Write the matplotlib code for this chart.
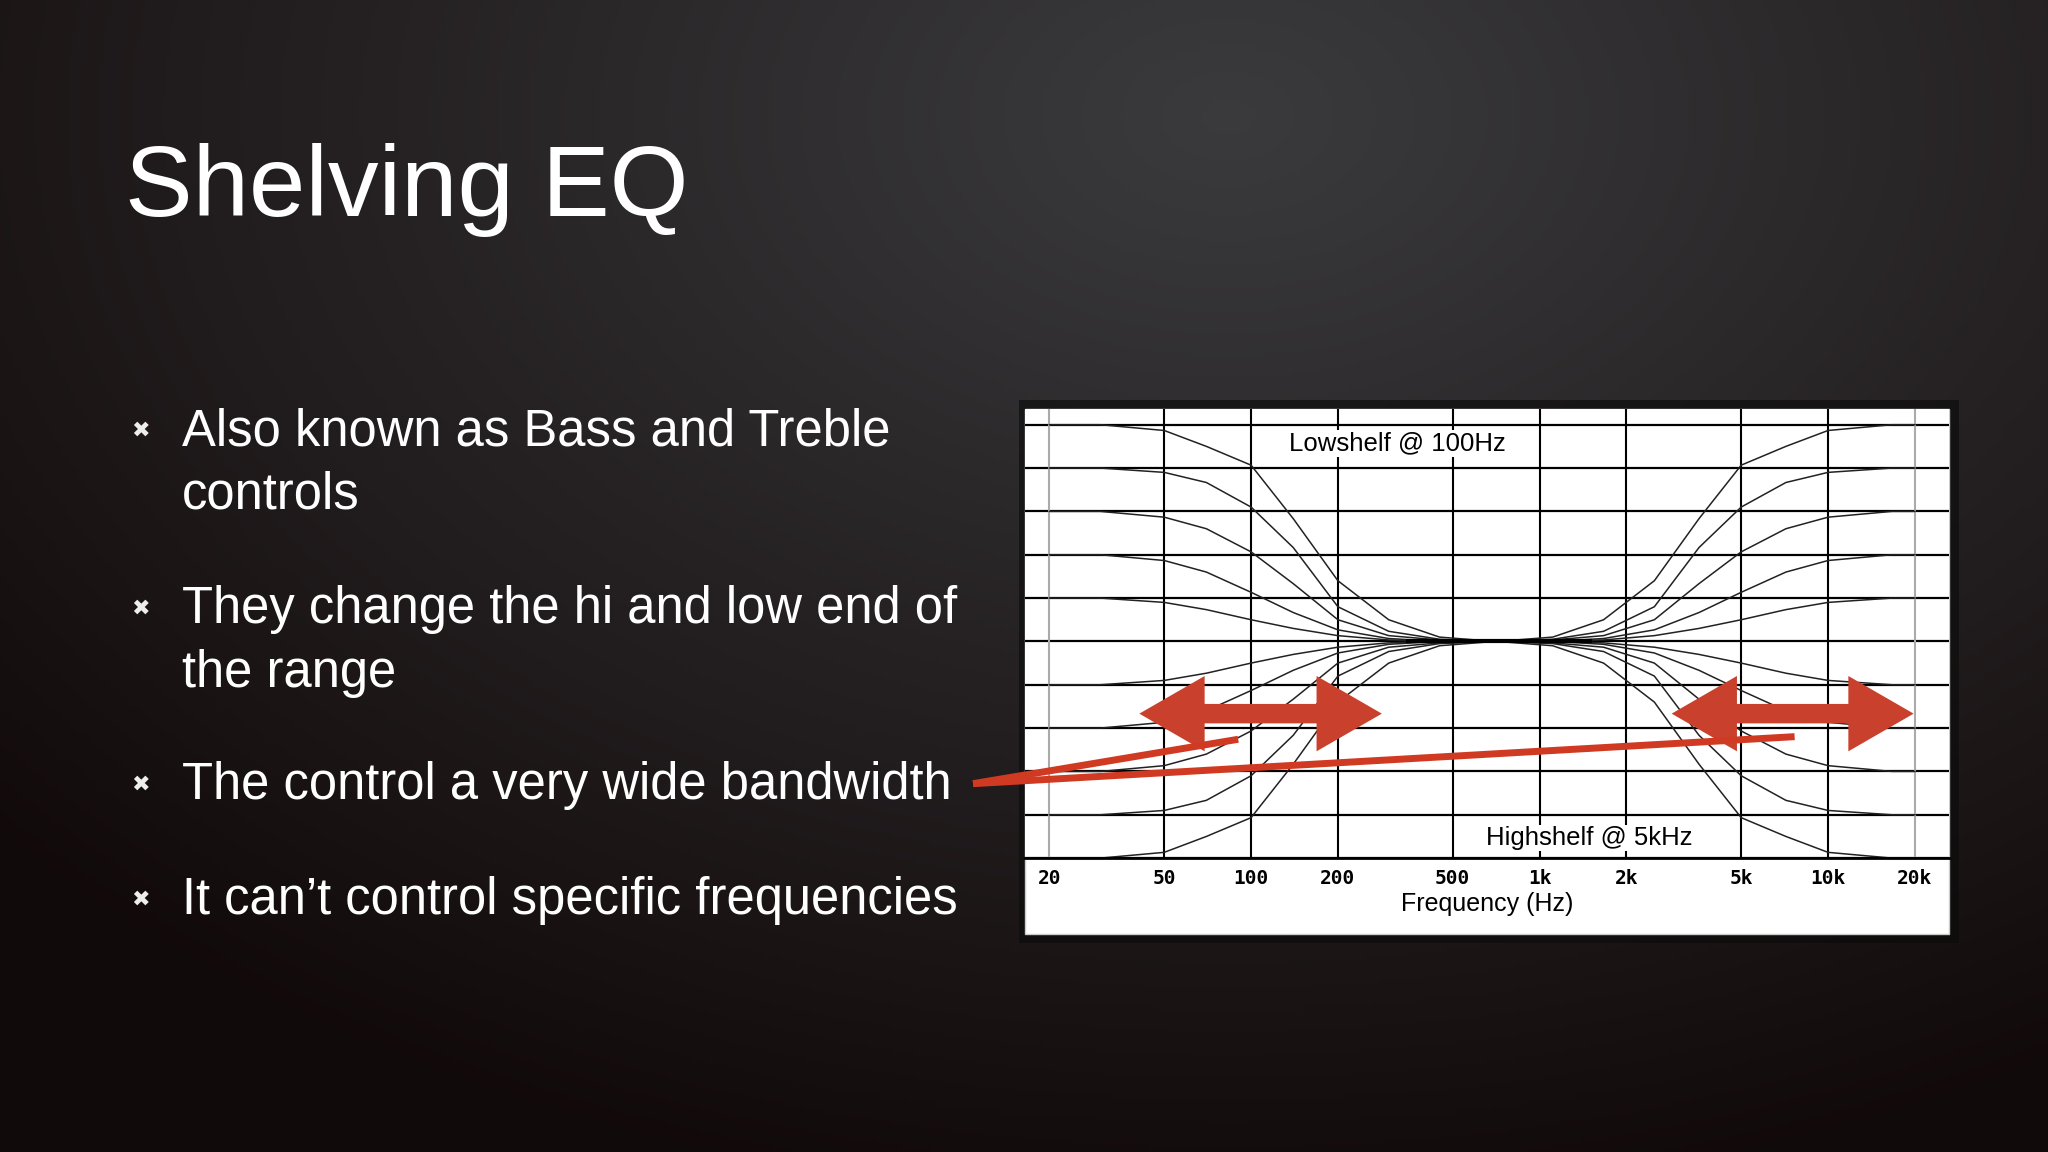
import numpy as np
import matplotlib
matplotlib.use("Agg")
import matplotlib.pyplot as plt
from matplotlib.patches import Rectangle, FancyArrowPatch
from matplotlib.lines import Line2D

# ---------------- data ----------------
title = "Shelving EQ"
bullets = ["Also known as Bass and Treble\ncontrols",
           "They change the hi and low end of\nthe range",
           "The control a very wide bandwidth",
           "It can\u2019t control specific frequencies"]
bullet_y = [330, 466, 601, 689]  # display rows (of 882)

low_freqs = [20, 30, 50, 70, 100, 140, 200, 300, 450, 700]
high_freqs = [20000, 16667, 10000, 7143, 5000, 3571, 2500, 1667, 1111, 714]
shelf_15 = [15, 15, 14.6, 13.5, 12.2, 8.5, 4.2, 1.5, 0.3, 0]
shelf_12 = [12, 12, 11.7, 11.0, 9.3, 6.5, 2.4, 0.7, 0.15, 0]
shelf_9 = [9, 9, 8.6, 7.8, 6.2, 4.0, 1.5, 0.4, 0.1, 0]
shelf_6 = [6, 6, 5.6, 4.8, 3.4, 2.0, 0.8, 0.2, 0, 0]
shelf_3 = [3, 3, 2.7, 2.2, 1.5, 0.9, 0.4, 0.1, 0, 0]
shelf_curves = [shelf_15, shelf_12, shelf_9, shelf_6, shelf_3]
flat_freqs = [350, 1500]
flat_vals = [0, 0]

xticks = [20, 50, 100, 200, 500, 1000, 2000, 5000, 10000, 20000]
xticklabels = ["20", "50", "100", "200", "500", "1k", "2k", "5k", "10k", "20k"]
yticks = [-15, -12, -9, -6, -3, 0, 3, 6, 9, 12, 15]

low_arrow = (41, 284, -5.0)
high_arrow = (2870, 19800, -5.0)

# ---------------- figure ----------------
W, H = 1568, 882
fig = plt.figure(figsize=(20.48, 11.52), dpi=100)

def fx(x): return x / W
def fy(y): return 1 - y / H

# background
bg = fig.add_axes([0, 0, 1, 1])
yy, xx = np.mgrid[0:1:300j, 0:1:530j]
r = np.sqrt(((xx - 0.6) / 0.8) ** 2 + ((yy - 0.1) / 0.95) ** 2)
t = np.clip(r, 0, 1)
c0 = np.array([0.23, 0.23, 0.24])
c1 = np.array([0.07, 0.04, 0.04])
img = c0[None, None, :] * (1 - t[..., None]) + c1[None, None, :] * t[..., None]
bg.imshow(img, aspect="auto", extent=[0, 1, 1, 0])
bg.set_xlim(0, 1); bg.set_ylim(1, 0)
bg.axis("off")

fam = ["Liberation Sans", "DejaVu Sans"]
fig.text(fx(96), fy(165), title, color="white", fontsize=73, family=fam, va="baseline")
for txt, y in zip(bullets, bullet_y):
    fig.text(fx(100), fy(y), "\u2716", color="#eeeeee", fontsize=16, family=["DejaVu Sans"], va="center")
    fig.text(fx(139), fy(y - 18), txt, color="white", fontsize=36.5, family=fam, va="top",
             linespacing=1.38)

# chart white box with shadow
fig.add_artist(Rectangle((fx(780), fy(722)), fx(720), (722 - 306) / H, transform=fig.transFigure,
                         facecolor="#0a0a0a", edgecolor="none", alpha=0.6, zorder=1))
fig.add_artist(Rectangle((fx(785), fy(715)), fx(707), (715 - 313) / H, transform=fig.transFigure,
                         facecolor="white", edgecolor="#cccccc", lw=1, zorder=2))

ax = fig.add_axes([fx(785), fy(657), fx(707), (657 - 313) / H], zorder=3)
ax.set_facecolor("white")
ax.set_xscale("log")
ax.set_xlim(16.5, 26200)
ax.set_ylim(-15, 16.1)
for yv in yticks:
    ax.axhline(yv, color="black", lw=1.6, zorder=1)
for xv in xticks:
    col = "#aaaaaa" if xv in (20, 20000) else "black"
    ax.axvline(xv, color=col, lw=1.5, zorder=1)
for c in shelf_curves:
    v = np.array(c)
    for s in (1, -1):
        ax.plot(low_freqs, s * v, color="#222222", lw=1.1, zorder=2)
        ax.plot(high_freqs, s * v, color="#222222", lw=1.1, zorder=2)
ax.plot(flat_freqs, flat_vals, color="black", lw=3, zorder=2)
for sp in ax.spines.values():
    sp.set_visible(False)
ax.spines["bottom"].set_visible(True)
ax.spines["bottom"].set_linewidth(2)
ax.set_yticks([])
ax.set_xticks(xticks)
ax.set_xticklabels(xticklabels, family="DejaVu Sans Mono", fontweight="bold", fontsize=14)
ax.tick_params(axis="x", length=0, pad=8)
ax.minorticks_off()
ax.set_xlabel("Frequency (Hz)", fontsize=18, family=fam, labelpad=3)
ax.text(322, 13.7, "Lowshelf @ 100Hz", fontsize=18.5, family=fam, ha="center", va="center",
        bbox=dict(facecolor="white", edgecolor="none", pad=1), zorder=4)
ax.text(1490, -13.6, "Highshelf @ 5kHz", fontsize=18.5, family=fam, ha="center", va="center",
        bbox=dict(facecolor="white", edgecolor="none", pad=1), zorder=4)

red = "#c9402c"
for a0, a1, yv in (low_arrow, high_arrow):
    ax.add_patch(FancyArrowPatch((a0, yv), (a1, yv), arrowstyle="<|-|>,head_length=1.3,head_width=0.75",
                                 mutation_scale=20, color=red, lw=14, zorder=5, shrinkA=0, shrinkB=0,
                                 joinstyle="miter", capstyle="butt"))

for (x1, y1) in ((948, 566), (1374, 564)):
    fig.add_artist(Line2D([fx(745), fx(x1)], [fy(600), fy(y1)], transform=fig.transFigure,
                          color="#d03a22", lw=5, zorder=10, solid_capstyle="butt"))

fig.savefig("out.png", dpi=100)
